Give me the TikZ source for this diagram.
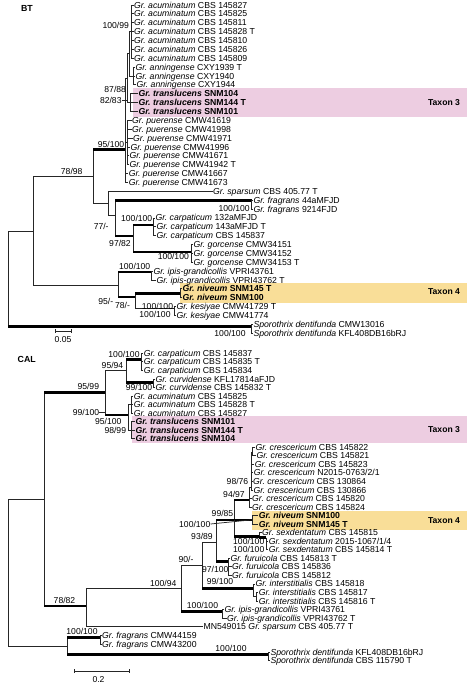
\documentclass[tikz,border=0pt]{standalone}
\usepackage{fontspec}
\setmainfont{Liberation Sans}
\definecolor{pinkbox}{RGB}{237,205,225}
\definecolor{yelbox}{RGB}{249,222,152}
\newcommand\grs[1]{\textit{Gr.\ #1}}
\newcommand\spdent{\textit{Sporothrix dentifunda}}
\newcommand\edg[2]{\draw[brl] (#1) |- (#2);}
\newcommand\edgs[2]{\foreach \q in {#2}{\draw[brl] (#1) |- (\q);}}
\newcommand\tedg[2]{\draw[brl] (#1) -- (#1 |- #2); \draw[thk] (#1 |- #2) -- (#2);}
\tikzset{
  leaf/.style={anchor=west, inner sep=0.3pt, text height=6.2pt, text depth=0pt, font=\fontsize{8.7}{9}\selectfont},
  sup/.style={inner sep=0pt, text height=6.2pt, text depth=0pt, font=\fontsize{8.6}{9}\selectfont},
  brl/.style={line width=0.75pt, draw=black!85},
  thk/.style={line width=2.6pt, draw=black},
  ttl/.style={inner sep=0pt, font=\bfseries\fontsize{8.8}{10}\selectfont},
  tax/.style={inner sep=0pt, font=\bfseries\fontsize{8.6}{10}\selectfont},
}
\begin{document}
\begin{tikzpicture}[x=1pt,y=-1pt]
\useasboundingbox (0,0) rectangle (474,684);
% ---------- highlight boxes ----------
\fill[pinkbox] (132.5,88.3) rectangle (466.7,117);
\fill[yelbox] (180,283) rectangle (466.7,302.5);
\fill[pinkbox] (131.7,416.2) rectangle (466.7,442.8);
\fill[yelbox] (251.7,511.2) rectangle (466.7,529.8);
% ---------- titles ----------
\node[ttl] (tBT) at (27,8.5) {BT};
\node[ttl] (tCAL) at (26.7,359) {CAL};
\node[tax] (tx3a) at (444,102.7) {Taxon 3};
\node[tax] (tx4a) at (444,292) {Taxon 4};
\node[tax] (tx3b) at (444,429.5) {Taxon 3};
\node[tax] (tx4b) at (444,521) {Taxon 4};
% ================= BT leaves =================
\node[leaf] (b0) at (133.5,5.00) {\grs{acuminatum} CBS 145827};
\node[leaf] (b1) at (133.5,13.87) {\grs{acuminatum} CBS 145825};
\node[leaf] (b2) at (133.5,22.74) {\grs{acuminatum} CBS 145811};
\node[leaf] (b3) at (133.5,31.61) {\grs{acuminatum} CBS 145828 T};
\node[leaf] (b4) at (133.5,40.48) {\grs{acuminatum} CBS 145810};
\node[leaf] (b5) at (133.5,49.35) {\grs{acuminatum} CBS 145826};
\node[leaf] (b6) at (133.5,58.22) {\grs{acuminatum} CBS 145809};
\node[leaf] (b7) at (135,67.09) {\grs{anningense} CXY1939 T};
\node[leaf] (b8) at (135,75.96) {\grs{anningense} CXY1940};
\node[leaf] (b9) at (136,84.83) {\grs{anningense} CXY1944};
\node[leaf] (b10) at (138,93.70) {\bfseries\grs{translucens} SNM104};
\node[leaf] (b11) at (138,102.57) {\bfseries\grs{translucens} SNM144 T};
\node[leaf] (b12) at (138,111.44) {\bfseries\grs{translucens} SNM101};
\node[leaf] (b13) at (131.7,120.31) {\grs{puerense} CMW41619};
\node[leaf] (b14) at (131.7,129.18) {\grs{puerense} CMW41998};
\node[leaf] (b15) at (132.7,138.05) {\grs{puerense} CMW41971};
\node[leaf] (b16) at (130,146.92) {\grs{puerense} CMW41996};
\node[leaf] (b17) at (129,155.79) {\grs{puerense} CMW41671};
\node[leaf] (b18) at (129,164.66) {\grs{puerense} CMW41942 T};
\node[leaf] (b19) at (128.3,173.53) {\grs{puerense} CMW41667};
\node[leaf] (b20) at (128.3,182.40) {\grs{puerense} CMW41673};
\node[leaf] (b21) at (212.7,191.27) {\grs{sparsum} CBS 405.77 T};
\node[leaf] (b22) at (253,200.14) {\grs{fragrans} 44aMFJD};
\node[leaf] (b23) at (253,209.01) {\grs{fragrans} 9214FJD};
\node[leaf] (b24) at (155,217.88) {\grs{carpaticum} 132aMFJD};
\node[leaf] (b25) at (156,226.75) {\grs{carpaticum} 143aMFJD T};
\node[leaf] (b26) at (156,235.62) {\grs{carpaticum} CBS 145837};
\node[leaf] (b27) at (193,244.49) {\grs{gorcense} CMW34151};
\node[leaf] (b28) at (193,253.36) {\grs{gorcense} CMW34152};
\node[leaf] (b29) at (193,262.23) {\grs{gorcense} CMW34153 T};
\node[leaf] (b30) at (153,271.10) {\grs{ipis-grandicollis} VPRI43761};
\node[leaf] (b31) at (156,279.97) {\grs{ipis-grandicollis} VPRI43762 T};
\node[leaf] (b32) at (182,288.84) {\bfseries\grs{niveum} SNM145 T};
\node[leaf] (b33) at (182,297.71) {\bfseries\grs{niveum} SNM100};
\node[leaf] (b34) at (176,306.58) {\grs{kesiyae} CMW41729 T};
\node[leaf] (b35) at (176,315.45) {\grs{kesiyae} CMW41774};
\node[leaf] (b36) at (253,324.32) {\spdent{} CMW13016};
\node[leaf] (b37) at (253,333.19) {\spdent{} KFL408DB16bRJ};
% ================= BT internal nodes =================
\coordinate (nR) at (8,278);
\coordinate (nA) at (33,231.7);
\coordinate (nC) at (93,176);
\coordinate (nP) at (125,149.3);
\coordinate (nTop) at (127,78);
\coordinate (n87) at (129.5,53.8);
\coordinate (nAcu) at (131.5,31.6);
\coordinate (nAnn) at (133.5,76);
\coordinate (nTr) at (130.5,102.6);
\coordinate (nPu) at (127.5,142);
\coordinate (nD) at (108,203);
\coordinate (nE) at (115,215);
\coordinate (nF) at (251.5,200.7);
\coordinate (nG) at (133,236);
\coordinate (nH) at (153.5,225);
\coordinate (nI) at (191.5,252);
\coordinate (nK) at (118,285);
\coordinate (nL) at (151.5,272);
\coordinate (nM) at (135,297);
\coordinate (nN) at (180.5,293.3);
\coordinate (nO) at (174,308);
\coordinate (nSp) at (251.5,326.5);
% ---------- BT edges ----------
\edg{nR}{nA} \tedg{nR}{nSp}
\edg{nA}{nC} \edg{nA}{nK}
\tedg{nC}{nP} \edg{nC}{nD}
\edg{nP}{nTop} \edg{nP}{nPu} \edgs{nP}{b19,b20}
\edg{nTop}{n87} \edg{nTop}{nTr}
\edg{n87}{nAcu} \edg{n87}{nAnn}
\edgs{nAcu}{b0,b1,b2,b3,b4,b5,b6}
\edgs{nAnn}{b7,b8,b9}
\edgs{nTr}{b10,b11,b12}
\edgs{nPu}{b13,b14,b15,b16,b17,b18}
\edg{nD}{b21} \edg{nD}{nE}
\tedg{nE}{nF} \tedg{nE}{nG}
\edgs{nF}{b22,b23}
\tedg{nG}{nH} \tedg{nG}{nI}
\edgs{nH}{b24,b25,b26}
\edgs{nI}{b27,b28,b29}
\tedg{nK}{nL} \tedg{nK}{nM}
\edgs{nL}{b30,b31}
\tedg{nM}{nN} \edg{nM}{nO}
\edgs{nN}{b32,b33}
\edgs{nO}{b34,b35}
\edgs{nSp}{b36,b37}
% ---------- BT support values ----------
\node[sup] (s1) at (115.8,25) {100/99};
\node[sup] (s2) at (115.2,89.3) {87/88};
\node[sup] (s3) at (110.8,100) {82/83};
\draw[brl] (s3.east) -- (nTop |- s3);
\node[sup] (s4) at (111,144.5) {95/100};
\node[sup] (s5) at (71.7,171.5) {78/98};
\node[sup] (s6) at (136.7,218.3) {100/100};
\node[sup] (s7) at (101.2,226) {77/-};
\node[sup] (s8) at (120,243.3) {97/82};
\node[sup] (s9) at (173.3,256.7) {100/100};
\node[sup] (s10) at (234.2,208.7) {100/100};
\node[sup] (s11) at (134.7,266.7) {100/100};
\node[sup] (s12) at (105.8,301) {95/-};
\node[sup] (s13) at (122.5,305) {78/-};
\node[sup] (s14) at (157.5,306) {100/100};
\node[sup] (s15) at (155,314.3) {100/100};
\node[sup] (s16) at (230,333.3) {100/100};
% ---------- BT scale ----------
\coordinate (sbA) at (55,331);
\coordinate (sbB) at (71,331);
\draw[brl] (sbA) -- (sbB);
\draw[brl] ([yshift=2pt]sbA) -- ([yshift=-2pt]sbA);
\draw[brl] ([yshift=2pt]sbB) -- ([yshift=-2pt]sbB);
\node[sup] (sbl) at (63,339.5) {0.05};
% ================= CAL leaves =================
\node[leaf] (c0) at (143.3,353.30) {\grs{carpaticum} CBS 145837};
\node[leaf] (c1) at (143.3,361.84) {\grs{carpaticum} CBS 145835 T};
\node[leaf] (c2) at (143.3,370.38) {\grs{carpaticum} CBS 145834};
\node[leaf] (c3) at (155,378.92) {\grs{curvidense} KFL17814aFJD};
\node[leaf] (c4) at (155,387.46) {\grs{curvidense} CBS 145832 T};
\node[leaf] (c5) at (133.3,396.00) {\grs{acuminatum} CBS 145825};
\node[leaf] (c6) at (133.3,404.54) {\grs{acuminatum} CBS 145828 T};
\node[leaf] (c7) at (133.3,413.08) {\grs{acuminatum} CBS 145827};
\node[leaf] (c8) at (135,421.62) {\bfseries\grs{translucens} SNM101};
\node[leaf] (c9) at (135,430.16) {\bfseries\grs{translucens} SNM144 T};
\node[leaf] (c10) at (135,438.70) {\bfseries\grs{translucens} SNM104};
\node[leaf] (c11) at (255,447.24) {\grs{crescericum} CBS 145822};
\node[leaf] (c12) at (256,455.78) {\grs{crescericum} CBS 145821};
\node[leaf] (c13) at (254.3,464.32) {\grs{crescericum} CBS 145823};
\node[leaf] (c14) at (253.3,472.86) {\grs{crescericum} N2015-0763/2/1};
\node[leaf] (c15) at (252.7,481.40) {\grs{crescericum} CBS 130864};
\node[leaf] (c16) at (253,489.94) {\grs{crescericum} CBS 130866};
\node[leaf] (c17) at (251.7,498.48) {\grs{crescericum} CBS 145820};
\node[leaf] (c18) at (251.7,507.02) {\grs{crescericum} CBS 145824};
\node[leaf] (c19) at (258.3,515.56) {\bfseries\grs{niveum} SNM100};
\node[leaf] (c20) at (258.3,524.10) {\bfseries\grs{niveum} SNM145 T};
\node[leaf] (c21) at (261.7,532.64) {\grs{sexdentatum} CBS 145815};
\node[leaf] (c22) at (268.3,541.18) {\grs{sexdentatum} 2015-1067/1/4};
\node[leaf] (c23) at (268.3,549.72) {\grs{sexdentatum} CBS 145814 T};
\node[leaf] (c24) at (230,558.26) {\grs{furuicola} CBS 145813 T};
\node[leaf] (c25) at (231.7,566.80) {\grs{furuicola} CBS 145836};
\node[leaf] (c26) at (231.7,575.34) {\grs{furuicola} CBS 145812};
\node[leaf] (c27) at (255,583.88) {\grs{interstitialis} CBS 145818};
\node[leaf] (c28) at (258.3,592.42) {\grs{interstitialis} CBS 145817};
\node[leaf] (c29) at (258.3,600.96) {\grs{interstitialis} CBS 145816 T};
\node[leaf] (c30) at (224,609.50) {\grs{ipis-grandicollis} VPRI43761};
\node[leaf] (c31) at (226.7,618.04) {\grs{ipis-grandicollis} VPRI43762 T};
\node[leaf] (c32) at (203,626.58) {MN549015 \grs{sparsum} CBS 405.77 T};
\node[leaf] (c33) at (101.7,635.6) {\grs{fragrans} CMW44159};
\node[leaf] (c34) at (101.7,644.2) {\grs{fragrans} CMW43200};
\node[leaf] (c35) at (270,652.20) {\spdent{} KFL408DB16bRJ};
\node[leaf] (c36) at (270,660.74) {\spdent{} CBS 115790 T};
% ================= CAL internal nodes =================
\coordinate (cR) at (8,573);
\coordinate (cA) at (44.3,499.3);
\coordinate (cC) at (105,392.3);
\coordinate (cE) at (126,370.7);
\coordinate (cG) at (141.5,359.3);
\coordinate (cH) at (153.3,382.7);
\coordinate (cF) at (128,415);
\coordinate (cAc) at (131.3,404.5);
\coordinate (cTr) at (131.3,430.2);
\coordinate (cD) at (86,606);
\coordinate (cI) at (181,588.3);
\coordinate (cJ) at (202,565);
\coordinate (cK) at (222,611.7);
\coordinate (cL) at (216,542.7);
\coordinate (cInt) at (253,588.3);
\coordinate (cInt2) at (256.5,596.7);
\coordinate (cFu) at (228.5,561.7);
\coordinate (cM) at (234,520);
\coordinate (cN) at (249.5,500);
\coordinate (cO) at (251,487);
\coordinate (cO2) at (252.8,452);
\coordinate (cNiv) at (252,519.8);
\coordinate (cS) at (259,536.7);
\coordinate (cS2) at (266.2,537.5);
\coordinate (cB) at (67,646);
\coordinate (cFr) at (100,637.7);
\coordinate (cSp) at (268.5,654.3);
% ---------- CAL edges ----------
\edg{cR}{cA} \edg{cR}{cB}
\tedg{cA}{cC} \tedg{cA}{cD}
\edg{cC}{cE} \tedg{cC}{cF}
\tedg{cE}{cG} \tedg{cE}{cH}
\edgs{cG}{c0,c1,c2}
\edgs{cH}{c3,c4}
\edg{cF}{cAc} \edg{cF}{cTr}
\edgs{cAc}{c5,c6,c7}
\edgs{cTr}{c8,c9,c10}
\edg{cD}{cI} \edg{cD}{c32}
\edg{cI}{cJ} \tedg{cI}{cK}
\edgs{cK}{c30,c31}
\edg{cJ}{cL} \tedg{cJ}{cInt}
\edg{cInt}{c27} \edg{cInt}{cInt2}
\edgs{cInt2}{c28,c29}
\tedg{cL}{cM} \tedg{cL}{cFu}
\edgs{cFu}{c24,c25,c26}
\tedg{cM}{cN} \tedg{cM}{cNiv} \tedg{cM}{cS}
\edg{cN}{cO} \edgs{cN}{c17,c18}
\edg{cO}{cO2} \edgs{cO}{c13,c14,c15,c16}
\edgs{cO2}{c11,c12}
\edgs{cNiv}{c19,c20}
\edg{cS}{c21} \tedg{cS}{cS2}
\edgs{cS2}{c22,c23}
\tedg{cB}{cFr} \tedg{cB}{cSp}
\edgs{cFr}{c33,c34}
\edgs{cSp}{c35,c36}
% ---------- CAL support values ----------
\node[sup] (t1) at (124,354) {100/100};
\node[sup] (t2) at (112.5,365) {95/94};
\node[sup] (t3) at (88.3,386) {95/99};
\node[sup] (t4) at (139,387.7) {99/100};
\node[sup] (t5) at (86,412.7) {99/100};
\draw[brl] (t5.east) -- (cC |- t5);
\node[sup] (t6) at (108.3,421) {95/100};
\node[sup] (t7) at (115.3,430.7) {98/99};
\node[sup] (t8) at (237.5,481.5) {98/76};
\node[sup] (t9) at (234,494) {94/97};
\node[sup] (t10) at (222.5,513) {99/85};
\node[sup,anchor=east] (t11) at (210.5,524) {100/100};
\draw[brl] (t11.east) -- (cNiv);
\node[sup] (t12) at (202,536) {93/89};
\node[sup] (t13) at (186,559.5) {90/-};
\node[sup,anchor=east] (t14) at (264.5,541.2) {100/100};
\node[sup,anchor=east] (t15) at (264.5,549.7) {100/100};
\node[sup] (t16) at (215.3,569) {97/100};
\node[sup] (t17) at (220,581.5) {99/100};
\node[sup] (t18) at (163.3,583.3) {100/94};
\node[sup] (t19) at (202.5,605) {100/100};
\node[sup] (t20) at (64.5,600.5) {78/82};
\node[sup] (t21) at (82,631.3) {100/100};
\node[sup] (t22) at (231,648.3) {100/100};
% ---------- CAL scale ----------
\coordinate (scA) at (74,671);
\coordinate (scB) at (129.3,671);
\draw[brl] (scA) -- (scB);
\draw[brl] ([yshift=2pt]scA) -- ([yshift=-2pt]scA);
\draw[brl] ([yshift=2pt]scB) -- ([yshift=-2pt]scB);
\node[sup] (scl) at (98.5,679.5) {0.2};
\end{tikzpicture}
\end{document}
